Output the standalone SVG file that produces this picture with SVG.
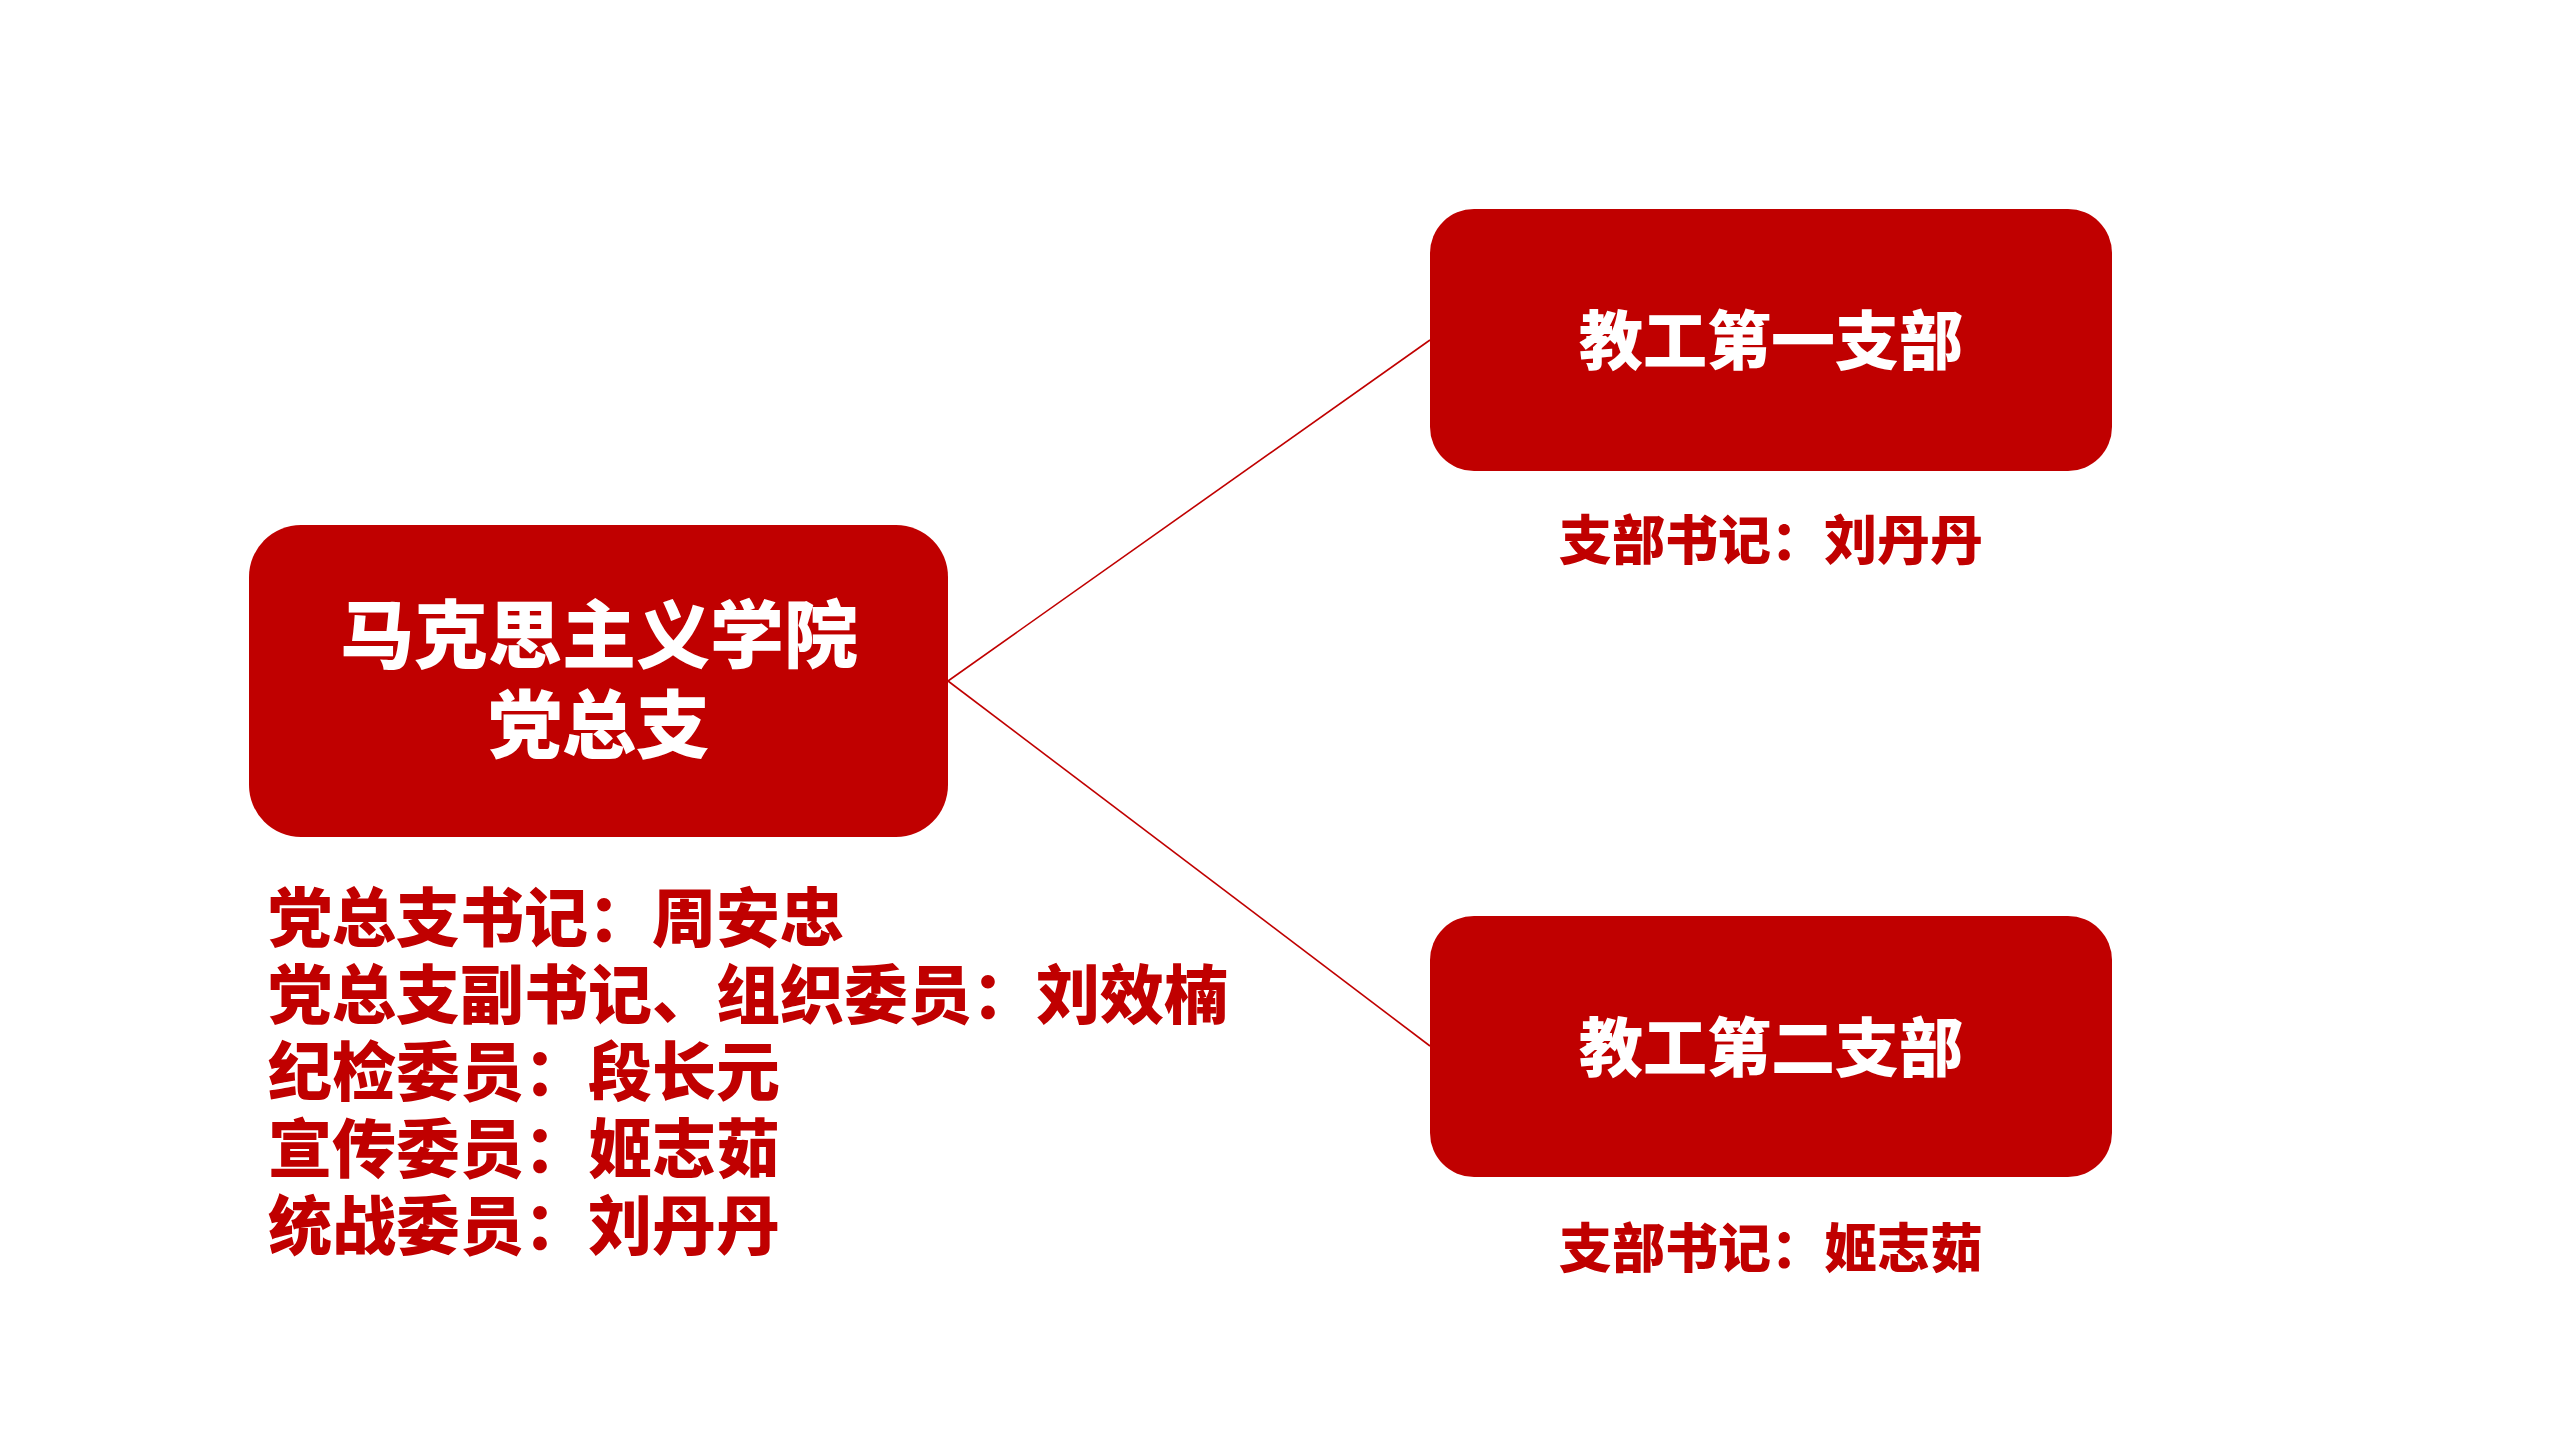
<svg xmlns="http://www.w3.org/2000/svg" width="2560" height="1440" viewBox="0 0 2560 1440">
<style>
.box{fill:#C00000;}
.t{font-family:"Noto Sans CJK SC","Liberation Sans",sans-serif;font-weight:900;}
.wt{fill:#FFFFFF;text-anchor:middle;}
.rt{fill:#C00000;}
.conn{stroke:#C00000;stroke-width:1.6;fill:none;}
</style>
<rect width="2560" height="1440" fill="#FFFFFF"/>
<g id="connectors">
<line class="conn" x1="948" y1="681" x2="1430" y2="340"/>
<line class="conn" x1="948" y1="681" x2="1430" y2="1046"/>
</g>
<g id="root">
<rect class="box" x="249" y="525" width="699" height="312" rx="52" ry="52"/>
<text class="t wt" font-size="74"><tspan x="599" y="662">马克思主义学院</tspan><tspan x="599" y="752">党总支</tspan></text>
</g>
<g id="root-members">
<text class="t rt" font-size="64"><tspan x="268" y="941">党总支书记：周安忠</tspan><tspan x="268" y="1018">党总支副书记、组织委员：刘效楠</tspan><tspan x="268" y="1095">纪检委员：段长元</tspan><tspan x="268" y="1172">宣传委员：姬志茹</tspan><tspan x="268" y="1249">统战委员：刘丹丹</tspan></text>
</g>
<g id="branch1">
<rect class="box" x="1430" y="209" width="682" height="262" rx="44" ry="44"/>
<text class="t wt" x="1771" y="364" font-size="64">教工第一支部</text>
</g>
<g id="branch1-secretary">
<text class="t rt" x="1771" y="560" font-size="53" text-anchor="middle">支部书记：刘丹丹</text>
</g>
<g id="branch2">
<rect class="box" x="1430" y="916" width="682" height="261" rx="44" ry="44"/>
<text class="t wt" x="1771" y="1071" font-size="64">教工第二支部</text>
</g>
<g id="branch2-secretary">
<text class="t rt" x="1771" y="1268" font-size="53" text-anchor="middle">支部书记：姬志茹</text>
</g>
</svg>
